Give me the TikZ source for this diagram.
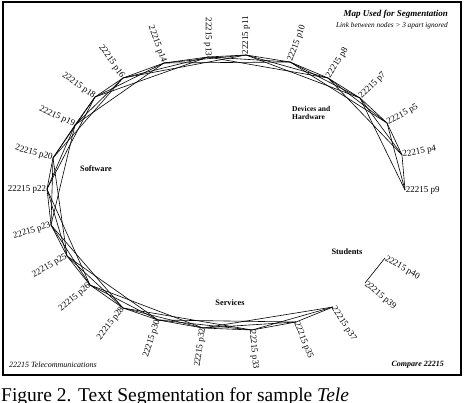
\documentclass[tikz,border=0pt]{standalone}
\usepackage{fontspec}
\setmainfont{Liberation Serif}
\begin{document}
\begin{tikzpicture}[x=1pt,y=-1pt,
  lbl/.style={font=\fontsize{9}{10}\selectfont, inner sep=0.6pt},
  region/.style={font=\fontsize{8.3}{9}\selectfont\bfseries, inner sep=0pt},
  link/.style={line width=0.6pt, black}]
\useasboundingbox (0,0) rectangle (474,403);
\clip (0,0) rectangle (474,403);
% frame
\draw[line width=1.3pt] (3,2) rectangle (461,375);
% paragraph nodes
\coordinate (n9)  at (405,190);
\coordinate (n4)  at (402,155);
\coordinate (n5)  at (387,123);
\coordinate (n7)  at (360,98);
\coordinate (n8)  at (328,78);
\coordinate (n10) at (290,62);
\coordinate (n11) at (246,55);
\coordinate (n13) at (208,57);
\coordinate (n14) at (164,63);
\coordinate (n16) at (123,78);
\coordinate (n18) at (95,97);
\coordinate (n19) at (75,125);
\coordinate (n20) at (53,158);
\coordinate (n22) at (47,189);
\coordinate (n23) at (51,225);
\coordinate (n25) at (67,256);
\coordinate (n26) at (90,285);
\coordinate (n28) at (123,308);
\coordinate (n30) at (158,320);
\coordinate (n32) at (203,328);
\coordinate (n33) at (252,330);
\coordinate (n35) at (296,322);
\coordinate (n37) at (333,307);
\coordinate (n40) at (385,258);
\coordinate (n39) at (365,283);
% links
\foreach \a/\b in {9/4,4/5,5/7,7/8,8/10,10/11,11/13,13/14,14/16,16/18,18/19,19/20,20/22,22/23,23/25,25/26,26/28,28/30,30/32,32/33,33/35,35/37,
  9/5,4/7,5/8,7/10,8/11,10/13,11/14,13/16,14/18,16/19,18/20,19/22,20/23,22/25,23/26,25/28,26/30,28/32,30/33,32/35,33/37,
  9/7,4/8,5/10,7/11,8/13,10/14,11/16,13/18,14/19,16/20,18/22,19/23,20/25,22/26,23/28,25/30,26/32,28/33,30/35,32/37}
  \draw[link] (n\a) -- (n\b);
\draw[link] (n40) -- (n39);
% labels
\node[lbl, anchor=east, rotate=-15] (l20) at (n20) {22215 p20};
\node[lbl, anchor=east, rotate=-25] (l19) at (n19) {22215 p19};
\node[lbl, anchor=east, rotate=-35] (l18) at (n18) {22215 p18};
\node[lbl, anchor=east, rotate=-55] (l16) at (n16) {22215 p16};
\node[lbl, anchor=east, rotate=-70] (l14) at (n14) {22215 p14};
\node[lbl, anchor=east, rotate=-90] (l13) at (n13) {22215 p13};
\node[lbl, anchor=west, rotate=90] (l11) at (n11) {22215 p11};
\node[lbl, anchor=west, rotate=70] (l10) at (n10) {22215 p10};
\node[lbl, anchor=west, rotate=58] (l8) at (n8) {22215 p8};
\node[lbl, anchor=west, rotate=45] (l7) at (n7) {22215 p7};
\node[lbl, anchor=west, rotate=28] (l5) at (n5) {22215 p5};
\node[lbl, anchor=west, rotate=10] (l4) at (n4) {22215 p4};
\node[lbl, anchor=west] (l9) at (n9) {22215 p9};
\node[lbl, anchor=east] (l22) at (n22) {22215 p22};
\node[lbl, anchor=east, rotate=17] (l23) at (n23) {22215 p23};
\node[lbl, anchor=east, rotate=30] (l25) at (n25) {22215 p25};
\node[lbl, anchor=east, rotate=40] (l26) at (n26) {22215 p26};
\node[lbl, anchor=east, rotate=52] (l28) at (n28) {22215 p28};
\node[lbl, anchor=east, rotate=72] (l30) at (n30) {22215 p30};
\node[lbl, anchor=east, rotate=82] (l32) at (n32) {22215 p32};
\node[lbl, anchor=west, rotate=-85] (l33) at (n33) {22215 p33};
\node[lbl, anchor=west, rotate=-68] (l35) at (n35) {22215 p35};
\node[lbl, anchor=west, rotate=-57] (l37) at (n37) {22215 p37};
\node[lbl, anchor=west, rotate=-30] (l40) at (n40) {22215 p40};
\node[lbl, anchor=west, rotate=-40] (l39) at (n39) {22215 p39};
% titles
\node[anchor=east, inner sep=0pt, font=\fontsize{9}{10}\selectfont\bfseries\itshape] (title) at (448,14) {Map Used for Segmentation};
\node[anchor=east, inner sep=0pt, font=\fontsize{7.3}{9}\selectfont\itshape] (sub) at (448,26) {Link between nodes > 3 apart ignored};
% regions
\node[region, anchor=north west, align=left, font=\fontsize{7.5}{8.5}\selectfont\bfseries] (dev) at (292,106) {Devices and\\Hardware};
\node[region] (soft) at (96,169) {Software};
\node[region] (serv) at (230,303) {Services};
\node[region] (stud) at (347,252) {Students};
% footer
\node[anchor=west, inner sep=0pt, font=\fontsize{8}{9}\selectfont\itshape] (foot) at (9,365) {22215 Telecommunications};
\node[anchor=east, inner sep=0pt, font=\fontsize{8}{9}\selectfont\bfseries\itshape] (cmp) at (444,365) {Compare 22215};
% caption
\node[anchor=base west, inner sep=0pt, font=\fontsize{19.5}{22}\selectfont] (cap) at (1,401.5) {Figure 2. Text Segmentation for sample \textit{Tele}};
\end{tikzpicture}
\end{document}
